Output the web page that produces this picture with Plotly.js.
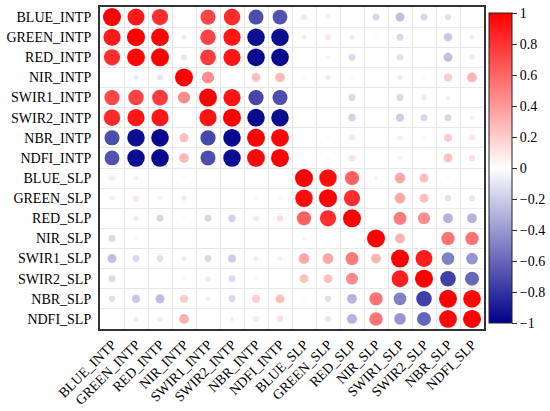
<!DOCTYPE html>
<html>
<head>
<meta charset="utf-8">
<script src="https://cdn.plot.ly/plotly-3.0.1.min.js"></script>
<style>html,body{margin:0;padding:0;background:#fff}#chart{width:550px;height:411px}</style>
</head>
<body>
<div id="chart"></div>
<script>
var labels = ["BLUE_INTP","GREEN_INTP","RED_INTP","NIR_INTP","SWIR1_INTP","SWIR2_INTP","NBR_INTP","NDFI_INTP",
              "BLUE_SLP","GREEN_SLP","RED_SLP","NIR_SLP","SWIR1_SLP","SWIR2_SLP","NBR_SLP","NDFI_SLP"];

var row_BLUE_INTP  = [ 1.00, 0.90, 0.82, 0.00, 0.72, 0.84,-0.70,-0.68, 0.10, 0.08, 0.02,-0.15,-0.25,-0.15,-0.12, 0.00];
var row_GREEN_INTP = [ 0.90, 1.00, 0.98,-0.08, 0.74, 0.91,-0.95,-0.95, 0.08, 0.10,-0.08,-0.03,-0.15, 0.00,-0.22,-0.07];
var row_RED_INTP   = [ 0.82, 0.98, 1.00,-0.10, 0.77, 0.91,-0.96,-0.96, 0.02, 0.07,-0.15,-0.02,-0.13, 0.00,-0.25,-0.08];
var row_NIR_INTP   = [ 0.00,-0.08,-0.10, 1.00, 0.45, 0.02, 0.25, 0.28,-0.03,-0.08,-0.03, 0.00,-0.08,-0.03, 0.20, 0.30];
var row_SWIR1_INTP = [ 0.72, 0.74, 0.77, 0.45, 1.00, 0.92,-0.72,-0.70, 0.00, 0.00,-0.15, 0.00,-0.15,-0.08,-0.07, 0.00];
var row_SWIR2_INTP = [ 0.84, 0.91, 0.91, 0.02, 0.92, 1.00,-0.96,-0.95, 0.00, 0.00,-0.18,-0.02,-0.20,-0.15,-0.15,-0.06];
var row_NBR_INTP   = [-0.70,-0.95,-0.96, 0.25,-0.72,-0.96, 1.00, 0.98, 0.00,-0.03, 0.10, 0.00, 0.08, 0.04, 0.20, 0.10];
var row_NDFI_INTP  = [-0.68,-0.95,-0.96, 0.28,-0.70,-0.95, 0.98, 1.00, 0.00,-0.03, 0.12, 0.00, 0.07, 0.03, 0.25, 0.12];
var row_BLUE_SLP   = [ 0.10, 0.08, 0.02,-0.03, 0.00, 0.00, 0.00, 0.00, 1.00, 0.95, 0.62,-0.05, 0.35, 0.25,-0.03, 0.00];
var row_GREEN_SLP  = [ 0.08, 0.10, 0.07,-0.08, 0.00, 0.00,-0.03,-0.03, 0.95, 1.00, 0.82, 0.00, 0.35, 0.25,-0.12,-0.10];
var row_RED_SLP    = [ 0.02,-0.08,-0.15,-0.03,-0.15,-0.18, 0.10, 0.12, 0.62, 0.82, 1.00,-0.02, 0.52, 0.45,-0.30,-0.30];
var row_NIR_SLP    = [-0.15,-0.03,-0.02, 0.00, 0.00,-0.02, 0.00, 0.00,-0.05, 0.00,-0.02, 1.00, 0.30, 0.00, 0.55, 0.55];
var row_SWIR1_SLP  = [-0.25,-0.15,-0.13,-0.08,-0.15,-0.20, 0.08, 0.07, 0.35, 0.35, 0.52, 0.30, 1.00, 0.88,-0.50,-0.42];
var row_SWIR2_SLP  = [-0.15, 0.00, 0.00,-0.03,-0.08,-0.15, 0.04, 0.03, 0.25, 0.25, 0.45, 0.00, 0.88, 1.00,-0.75,-0.60];
var row_NBR_SLP    = [-0.12,-0.22,-0.25, 0.20,-0.07,-0.15, 0.20, 0.25,-0.03,-0.12,-0.30, 0.55,-0.50,-0.75, 1.00, 0.97];
var row_NDFI_SLP   = [ 0.00,-0.07,-0.08, 0.30, 0.00,-0.06, 0.10, 0.12, 0.00,-0.10,-0.30, 0.55,-0.42,-0.60, 0.97, 1.00];

var colorTicks = [-1,-0.8,-0.6,-0.4,-0.2,0,0.2,0.4,0.6,0.8,1];

var rows = [row_BLUE_INTP,row_GREEN_INTP,row_RED_INTP,row_NIR_INTP,row_SWIR1_INTP,row_SWIR2_INTP,row_NBR_INTP,row_NDFI_INTP,
            row_BLUE_SLP,row_GREEN_SLP,row_RED_SLP,row_NIR_SLP,row_SWIR1_SLP,row_SWIR2_SLP,row_NBR_SLP,row_NDFI_SLP];

var xs = [], ys = [], cs = [], ss = [];
for (var i = 0; i < rows.length; i++) {
  for (var j = 0; j < rows[i].length; j++) {
    var r = rows[i][j];
    xs.push(j); ys.push(i); cs.push(r);
    ss.push(18 * Math.sqrt(Math.abs(r)));
  }
}
var idx = labels.map(function(_, k){ return k; });
var font = "'Liberation Serif', 'Times New Roman', serif";

var trace = {
  type: "scatter", mode: "markers", x: xs, y: ys,
  hoverinfo: "none",
  marker: {
    size: ss, color: cs, cmin: -1, cmax: 1, opacity: 1,
    colorscale: [[0, "#00008B"], [0.5, "#FFFFFF"], [1, "#FF0000"]],
    line: {width: 0},
    showscale: true,
    colorbar: {
      x: 1.013, xanchor: "left", xpad: 0, y: 0.5, yanchor: "middle", ypad: 0, len: 0.963, lenmode: "fraction",
      thickness: 23, outlinecolor: "#222", outlinewidth: 1,
      tickvals: colorTicks, ticks: "outside", ticklen: 5, tickcolor: "#333",
      tickfont: {family: font, size: 14, color: "#000"}
    }
  }
};

var layout = {
  width: 550, height: 411,
  margin: {l: 100, r: 66, t: 7, b: 82, autoexpand: false},
  paper_bgcolor: "#fff", plot_bgcolor: "#fff",
  showlegend: false,
  xaxis: {
    range: [-0.5, 15.5], tickvals: idx, ticktext: labels, tickangle: -45,
    showgrid: false, zeroline: false, showline: true, mirror: true, linecolor: "#333", linewidth: 2,
    ticks: "", tickfont: {family: font, size: 14, color: "#000"},
    minor: {tick0: 0.5, dtick: 1, showgrid: true, gridcolor: "#e8e8e8", gridwidth: 1, ticks: ""}
  },
  yaxis: {
    range: [15.5, -0.5], tickvals: idx, ticktext: labels, ticklabelstandoff: 4,
    showgrid: false, zeroline: false, showline: true, mirror: true, linecolor: "#333", linewidth: 2,
    ticks: "", tickfont: {family: font, size: 14, color: "#000"},
    minor: {tick0: 0.5, dtick: 1, showgrid: true, gridcolor: "#e8e8e8", gridwidth: 1, ticks: ""}
  }
};

Plotly.newPlot("chart", [trace], layout, {displayModeBar: false, staticPlot: true});
</script>
</body>
</html>
